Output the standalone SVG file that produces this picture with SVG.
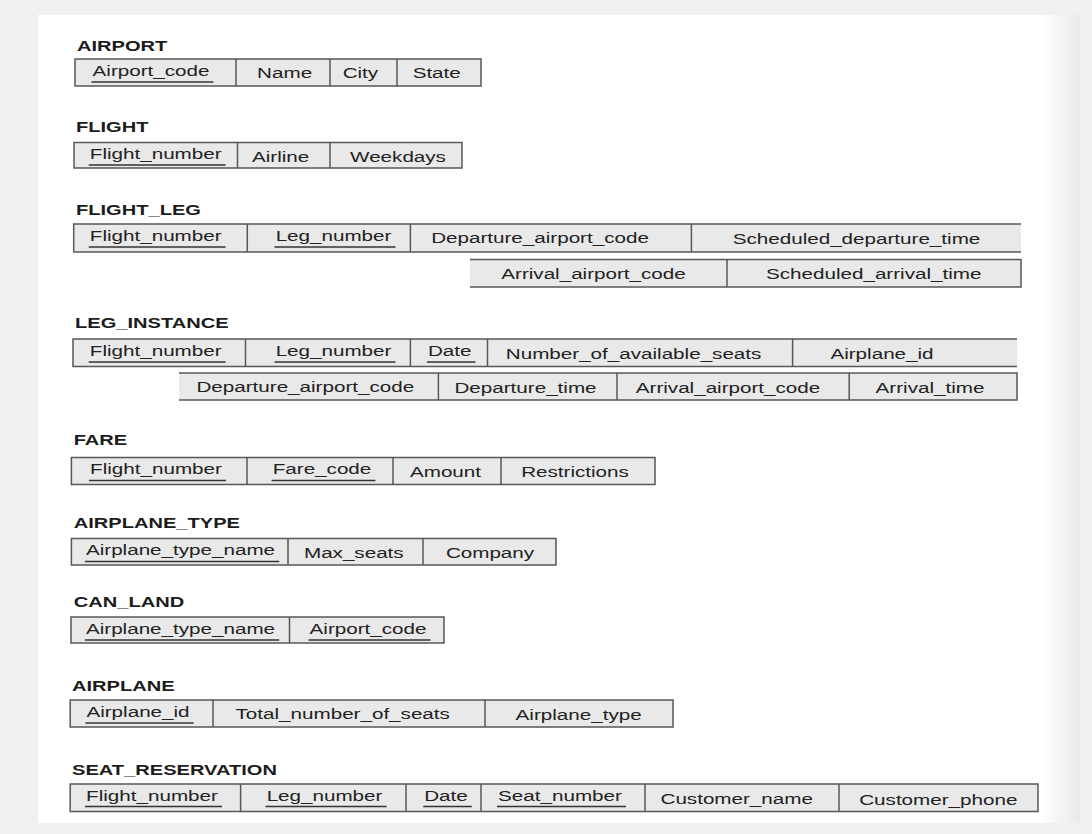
<svg xmlns="http://www.w3.org/2000/svg" width="1092" height="834" viewBox="0 0 1092 834">
<defs>
<linearGradient id="fade" x1="0" y1="0" x2="1" y2="0">
<stop offset="0" stop-color="#ffffff"/>
<stop offset="1" stop-color="#e9e9e9"/>
</linearGradient>
<style>
.t{font-family:"Liberation Sans",Arial,Helvetica,sans-serif;font-weight:bold;font-size:15px;fill:#1c1c1c}
.c{font-family:"Liberation Sans",Arial,Helvetica,sans-serif;font-size:15.4px;fill:#222;text-anchor:middle}
.fill{fill:#e9e9e9;stroke:none}
.b{fill:none;stroke:#575757;stroke-width:1.5}
.u{stroke:#333;stroke-width:1.4}
</style>
</defs>
<rect x="0" y="0" width="1092" height="834" fill="#f0f0f0"/>
<rect x="38" y="15" width="1042" height="808" fill="#ffffff"/>
<rect x="1040" y="15" width="40" height="808" fill="url(#fade)"/>

<g id="airport">
<text class="t" transform="translate(77,51) scale(1.34,1)">AIRPORT</text>
<rect class="fill" x="75" y="59" width="406" height="27"/>
<path class="b" d="M75,59H481V86H75Z M236,59V86 M330,59V86 M397,59V86"/>
<text class="c" transform="translate(151,75.8) scale(1.34,1)">Airport_code</text>
<line class="u" x1="91.5" y1="82" x2="213.5" y2="82"/>
<text class="c" transform="translate(284.6,78.3) scale(1.34,1)">Name</text>
<text class="c" transform="translate(360.4,78.3) scale(1.34,1)">City</text>
<text class="c" transform="translate(436.7,78.3) scale(1.34,1)">State</text>
</g>

<g id="flight">
<text class="t" transform="translate(76,131.7) scale(1.34,1)">FLIGHT</text>
<rect class="fill" x="74" y="142.5" width="388" height="25.5"/>
<path class="b" d="M74,142.5H462V168H74Z M237.5,142.5V168 M330,142.5V168"/>
<text class="c" transform="translate(155.7,159.3) scale(1.34,1)">Flight_number</text>
<line class="u" x1="88.7" y1="165" x2="225.6" y2="165"/>
<text class="c" transform="translate(280.6,161.6) scale(1.34,1)">Airline</text>
<text class="c" transform="translate(398,161.6) scale(1.34,1)">Weekdays</text>
</g>

<g id="flight_leg">
<text class="t" transform="translate(76,215) scale(1.34,1)">FLIGHT_LEG</text>
<rect class="fill" x="73.7" y="224" width="947.3" height="28"/>
<path class="b" d="M1021,224H73.7V252H1021 M247.3,224V252 M410.4,224V252 M691.4,224V252"/>
<text class="c" transform="translate(155.7,240.8) scale(1.34,1)">Flight_number</text>
<line class="u" x1="88.7" y1="247" x2="225.6" y2="247"/>
<text class="c" transform="translate(333.5,240.8) scale(1.34,1)">Leg_number</text>
<line class="u" x1="274.5" y1="247" x2="395.5" y2="247"/>
<text class="c" transform="translate(540,243.3) scale(1.34,1)">Departure_airport_code</text>
<text class="c" transform="translate(856.5,243.8) scale(1.34,1)">Scheduled_departure_time</text>
<rect class="fill" x="470" y="259.5" width="551" height="27.5"/>
<path class="b" d="M470,259.5H1021V287H470 M727,259.5V287"/>
<text class="c" transform="translate(593.5,278.8) scale(1.34,1)">Arrival_airport_code</text>
<text class="c" transform="translate(873.7,279.3) scale(1.34,1)">Scheduled_arrival_time</text>
</g>

<g id="leg_instance">
<text class="t" transform="translate(75,328) scale(1.34,1)">LEG_INSTANCE</text>
<rect class="fill" x="73" y="339" width="944" height="27.5"/>
<path class="b" d="M1017,339H73V366.5H1017 M245.5,339V366.5 M410.4,339V366.5 M487.5,339V366.5 M792.6,339V366.5"/>
<text class="c" transform="translate(155.7,355.8) scale(1.34,1)">Flight_number</text>
<line class="u" x1="88.7" y1="362" x2="225.6" y2="362"/>
<text class="c" transform="translate(333.5,355.8) scale(1.34,1)">Leg_number</text>
<line class="u" x1="274.5" y1="362" x2="395.5" y2="362"/>
<text class="c" transform="translate(449.7,355.8) scale(1.34,1)">Date</text>
<line class="u" x1="426.9" y1="362" x2="475.5" y2="362"/>
<text class="c" transform="translate(633.6,358.8) scale(1.34,1)">Number_of_available_seats</text>
<text class="c" transform="translate(882,359.3) scale(1.34,1)">Airplane_id</text>
<rect class="fill" x="179" y="373" width="838" height="27"/>
<path class="b" d="M179,373H1017V400H179 M438.4,373V400 M617,373V400 M849.2,373V400"/>
<text class="c" transform="translate(305.3,392) scale(1.34,1)">Departure_airport_code</text>
<text class="c" transform="translate(525.5,392.5) scale(1.34,1)">Departure_time</text>
<text class="c" transform="translate(728,392.8) scale(1.34,1)">Arrival_airport_code</text>
<text class="c" transform="translate(930,393) scale(1.34,1)">Arrival_time</text>
</g>

<g id="fare">
<text class="t" transform="translate(73.7,445) scale(1.34,1)">FARE</text>
<rect class="fill" x="71.4" y="457.5" width="583.6" height="27"/>
<path class="b" d="M71.4,457.5H655V484.5H71.4Z M247,457.5V484.5 M393,457.5V484.5 M501,457.5V484.5"/>
<text class="c" transform="translate(156,474.3) scale(1.34,1)">Flight_number</text>
<line class="u" x1="89" y1="480.5" x2="226" y2="480.5"/>
<text class="c" transform="translate(322,474.3) scale(1.34,1)">Fare_code</text>
<line class="u" x1="271.6" y1="480.5" x2="375.4" y2="480.5"/>
<text class="c" transform="translate(445.5,477) scale(1.34,1)">Amount</text>
<text class="c" transform="translate(575,477) scale(1.34,1)">Restrictions</text>
</g>

<g id="airplane_type">
<text class="t" transform="translate(73.7,528.3) scale(1.34,1)">AIRPLANE_TYPE</text>
<rect class="fill" x="71.4" y="538.5" width="484.6" height="26.5"/>
<path class="b" d="M71.4,538.5H556V565H71.4Z M288,538.5V565 M423,538.5V565"/>
<text class="c" transform="translate(180.5,555) scale(1.34,1)">Airplane_type_name</text>
<line class="u" x1="84.8" y1="561.5" x2="279.2" y2="561.5"/>
<text class="c" transform="translate(353.8,557.6) scale(1.34,1)">Max_seats</text>
<text class="c" transform="translate(490,557.8) scale(1.34,1)">Company</text>
</g>

<g id="can_land">
<text class="t" transform="translate(73.7,606.7) scale(1.34,1)">CAN_LAND</text>
<rect class="fill" x="71" y="617" width="373" height="26"/>
<path class="b" d="M71,617H444V643H71Z M289.5,617V643"/>
<text class="c" transform="translate(180.5,633.5) scale(1.34,1)">Airplane_type_name</text>
<line class="u" x1="84.8" y1="640" x2="279.2" y2="640"/>
<text class="c" transform="translate(368,633.5) scale(1.34,1)">Airport_code</text>
<line class="u" x1="308.5" y1="640" x2="430.5" y2="640"/>
</g>

<g id="airplane">
<text class="t" transform="translate(72,691) scale(1.34,1)">AIRPLANE</text>
<rect class="fill" x="70.2" y="700" width="602.8" height="27"/>
<path class="b" d="M70.2,700H673V727H70.2Z M213,700V727 M485,700V727"/>
<text class="c" transform="translate(138,716.5) scale(1.34,1)">Airplane_id</text>
<line class="u" x1="85.4" y1="723" x2="193.6" y2="723"/>
<text class="c" transform="translate(342.7,719.3) scale(1.34,1)">Total_number_of_seats</text>
<text class="c" transform="translate(578.6,719.8) scale(1.34,1)">Airplane_type</text>
</g>

<g id="seat_reservation">
<text class="t" transform="translate(72,775) scale(1.34,1)">SEAT_RESERVATION</text>
<rect class="fill" x="70.2" y="784" width="967.8" height="27.5"/>
<path class="b" d="M70.2,784H1038V811.5H70.2Z M240.6,784V811.5 M406,784V811.5 M481,784V811.5 M645,784V811.5 M839,784V811.5"/>
<text class="c" transform="translate(152,800.6) scale(1.34,1)">Flight_number</text>
<line class="u" x1="85" y1="806.5" x2="222" y2="806.5"/>
<text class="c" transform="translate(324.5,800.8) scale(1.34,1)">Leg_number</text>
<line class="u" x1="265.5" y1="806.5" x2="386.5" y2="806.5"/>
<text class="c" transform="translate(446,801) scale(1.34,1)">Date</text>
<line class="u" x1="423.2" y1="806.5" x2="471.8" y2="806.5"/>
<text class="c" transform="translate(560,801.2) scale(1.34,1)">Seat_number</text>
<line class="u" x1="497" y1="806.5" x2="626" y2="806.5"/>
<text class="c" transform="translate(736.7,804.3) scale(1.34,1)">Customer_name</text>
<text class="c" transform="translate(938.3,804.8) scale(1.34,1)">Customer_phone</text>
</g>
</svg>
